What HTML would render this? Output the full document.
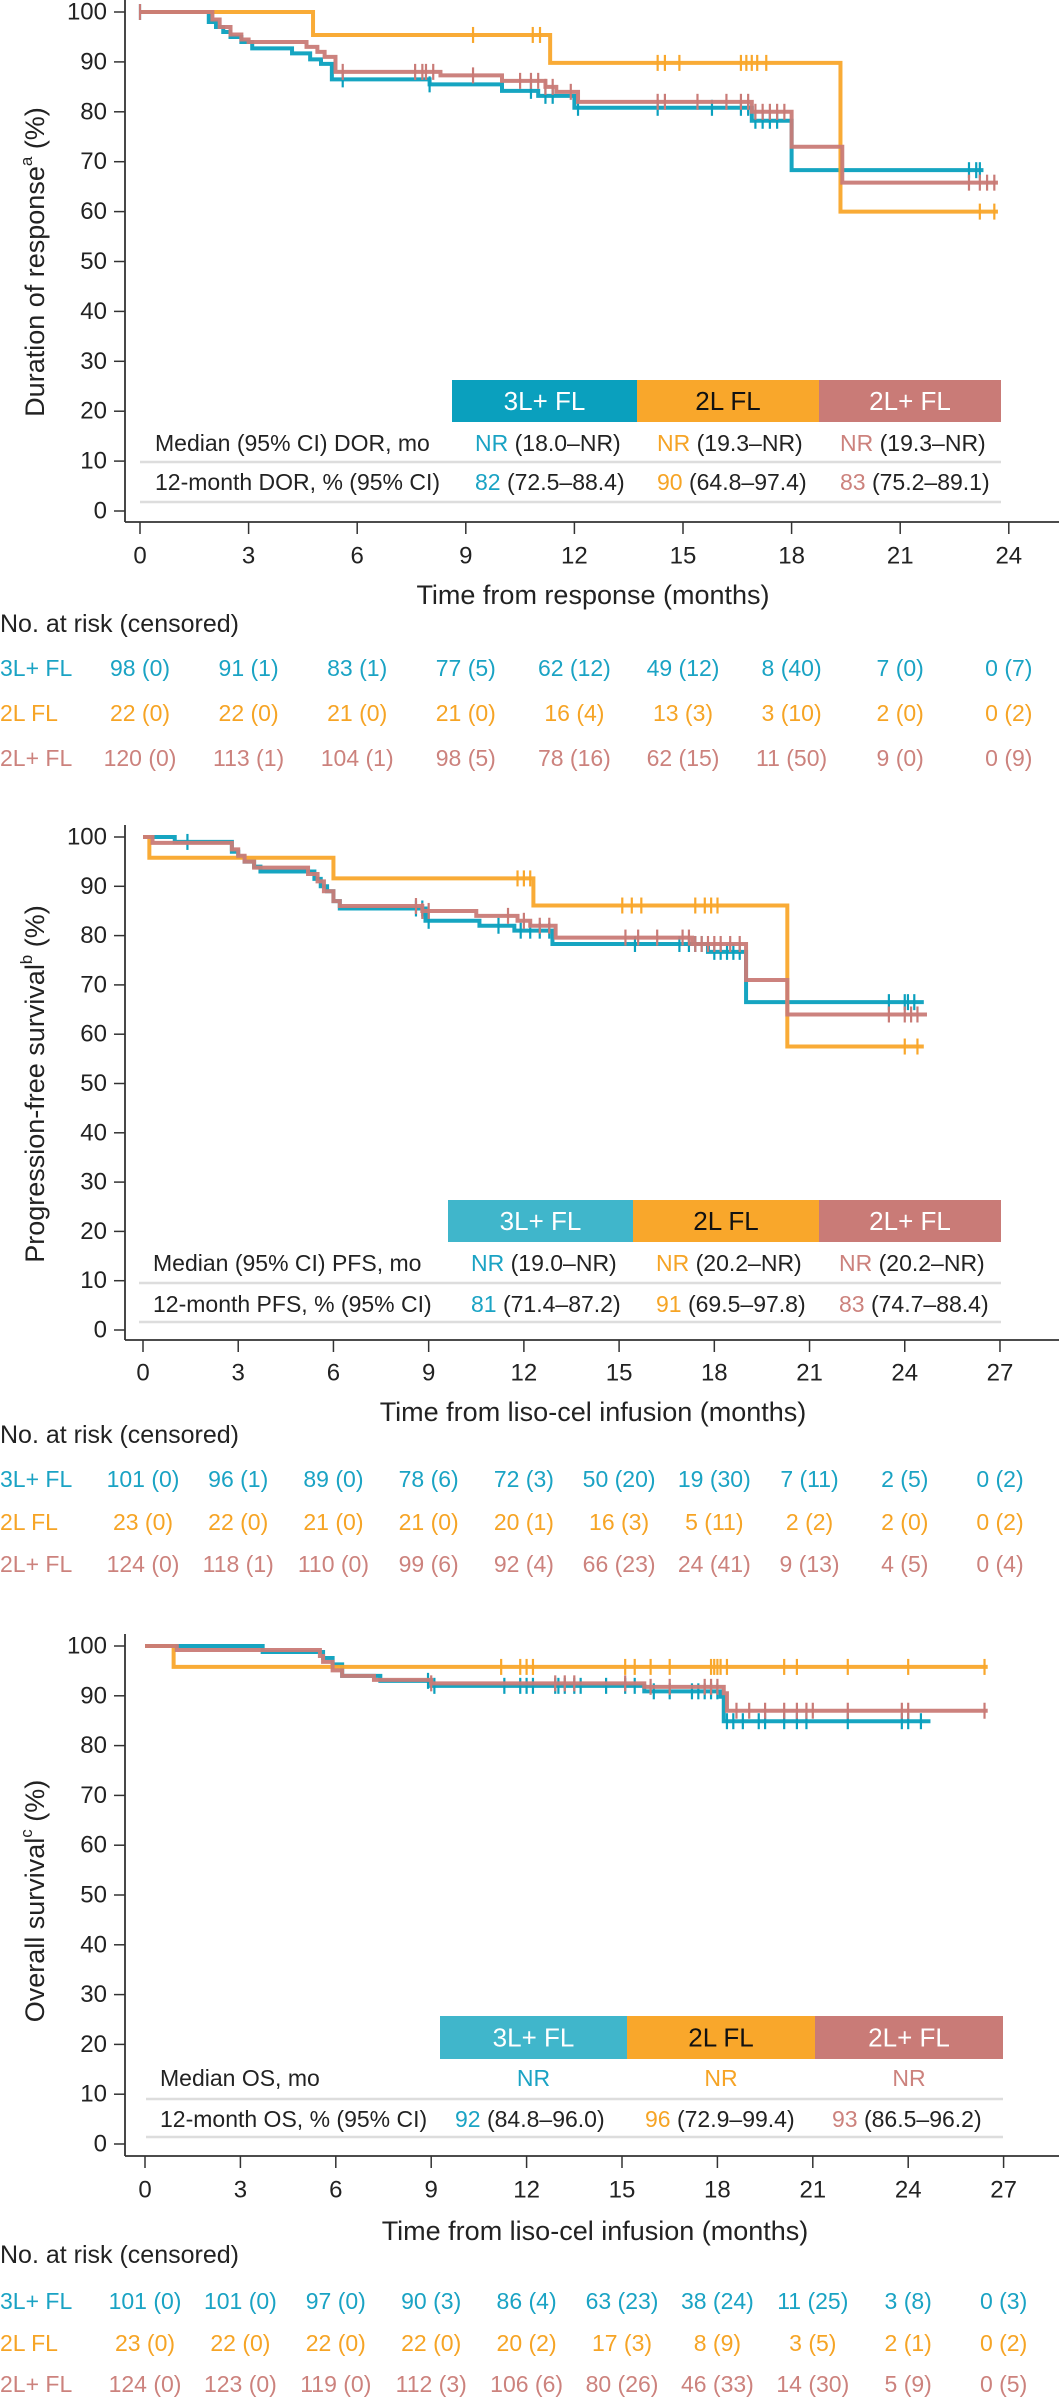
<!DOCTYPE html>
<html><head><meta charset="utf-8"><style>
html,body{margin:0;padding:0;background:#fff;}
svg{display:block;font-family:"Liberation Sans",sans-serif;}
</style></head><body>
<svg id="fig" width="1059" height="2400" viewBox="0 0 1059 2400" xmlns="http://www.w3.org/2000/svg"></svg>
<script>
// ===== DATA =====
const xTicksA = [0,3,6,9,12,15,18,21,24];
const xTicksB = [0,3,6,9,12,15,18,21,24,27];
const yTicks = [0,10,20,30,40,50,60,70,80,90,100];
const groups = ["3L+ FL","2L FL","2L+ FL"];

// DOR
const dorTealT = [0,1.9,2.1,2.3,2.5,2.8,3.1,4.2,4.7,5.0,5.3,8.0,10.0,11.0,12.0,16.9,18.0];
const dorTealS = [100,98,97,96,95,94,92.7,91.7,90.5,89.6,86.5,85.5,84.2,83.2,80.8,78.2,68.3];
const dorTealEnd = 23.3;
const dorTealC = [0,5.6,8.0,10.8,11.2,11.4,12.1,14.3,15.8,16.6,16.8,17.0,17.2,17.4,17.6,22.9,23.1,23.2];
const dorOrT = [0,4.78,11.33,19.35];
const dorOrS = [100,95.4,89.8,60];
const dorOrEnd = 23.7;
const dorOrC = [9.2,10.85,11.05,14.3,14.5,14.9,16.6,16.75,16.9,17.05,17.3,23.2,23.6];
const dorRoseT = [0,2.0,2.2,2.5,2.8,3.0,4.6,4.9,5.1,5.4,8.3,10.0,11.2,11.5,12.1,16.9,18.0,19.4];
const dorRoseS = [100,98.5,97,95.5,94.5,94,93,92,91,88,87.3,86.2,85,84,82,80,73,65.8];
const dorRoseEnd = 23.7;
const dorRoseC = [0,5.6,7.6,7.8,7.9,8.1,9.2,10.5,10.8,11.0,11.2,11.4,11.9,14.3,14.5,15.4,16.2,16.6,16.8,17.0,17.2,17.4,17.6,17.8,22.9,23.2,23.4,23.6];

// PFS
const pfsTealT = [0,1.0,2.8,3.0,3.2,3.5,3.7,5.4,5.6,5.8,6.0,6.2,8.9,10.6,11.7,12.9,17.8,19.0];
const pfsTealS = [100,99,97,96,95,94,93,91.5,90,89,87,85.5,83,82,81,78.3,76.7,66.5];
const pfsTealEnd = 24.6;
const pfsTealC = [1.4,8.6,8.8,9.0,11.2,11.9,12.2,12.5,12.8,15.5,16.9,17.2,17.4,17.6,18.0,18.2,18.4,18.6,18.8,23.5,24.0,24.1,24.3];
const pfsOrT = [0,0.2,6.0,12.3,20.3];
const pfsOrS = [100,95.8,91.6,86.1,57.5];
const pfsOrEnd = 24.6;
const pfsOrC = [11.8,12.0,12.2,15.1,15.4,15.7,17.4,17.7,17.9,18.1,24.0,24.4];
const pfsRoseT = [0,0.3,2.8,3.0,3.2,3.5,5.2,5.5,5.7,6.0,6.2,8.8,10.5,11.8,12.2,13.0,17.3,19.0,20.3];
const pfsRoseS = [100,98.8,97.5,96.2,95,93.8,92.5,91,89,87,86,85,84,83,82,79.6,78.3,71,64];
const pfsRoseEnd = 24.7;
const pfsRoseC = [8.6,8.8,9.0,11.5,12.0,12.5,12.8,15.2,15.6,16.2,17.0,17.2,17.4,17.6,17.8,18.0,18.2,18.5,18.8,23.5,24.0,24.2,24.4];

// OS
const osTealT = [0,3.7,5.6,5.9,6.2,7.4,9.0,15.7,18.1,18.2];
const osTealS = [100,98.8,97.6,96.3,94,93,92,90.9,89.8,84.9];
const osTealEnd = 24.7;
const osTealC = [8.9,9.1,11.3,11.8,12.0,12.2,12.9,13.0,13.2,13.5,13.7,14.5,15.1,15.4,16.0,16.5,17.2,17.4,17.6,17.8,18.0,18.3,18.5,18.8,19.3,19.5,20.1,20.5,20.8,22.1,23.8,24.0,24.4];
const osOrT = [0,0.9];
const osOrS = [100,95.8];
const osOrEnd = 26.5;
const osOrC = [11.2,11.8,12.0,12.2,15.1,15.4,15.9,16.5,17.8,17.9,18.0,18.1,18.3,20.1,20.5,22.1,24.0,26.4];
const osRoseT = [0,1.0,5.5,5.6,5.9,6.2,7.2,9.0,15.7,18.2,18.3];
const osRoseS = [100,99.2,98,96.8,95.1,94,93.2,92.5,91.8,90.5,87];
const osRoseEnd = 26.5;
const osRoseC = [9.0,12.9,13.2,13.5,15.1,15.9,16.5,17.6,17.8,18.0,18.6,19.0,19.5,20.1,20.5,20.8,21.0,22.1,23.8,24.0,26.4];

// risk tables
const dorRiskTeal = ["98 (0)","91 (1)","83 (1)","77 (5)","62 (12)","49 (12)","8 (40)","7 (0)","0 (7)"];
const dorRiskOr = ["22 (0)","22 (0)","21 (0)","21 (0)","16 (4)","13 (3)","3 (10)","2 (0)","0 (2)"];
const dorRiskRose = ["120 (0)","113 (1)","104 (1)","98 (5)","78 (16)","62 (15)","11 (50)","9 (0)","0 (9)"];
const pfsRiskTeal = ["101 (0)","96 (1)","89 (0)","78 (6)","72 (3)","50 (20)","19 (30)","7 (11)","2 (5)","0 (2)"];
const pfsRiskOr = ["23 (0)","22 (0)","21 (0)","21 (0)","20 (1)","16 (3)","5 (11)","2 (2)","2 (0)","0 (2)"];
const pfsRiskRose = ["124 (0)","118 (1)","110 (0)","99 (6)","92 (4)","66 (23)","24 (41)","9 (13)","4 (5)","0 (4)"];
const osRiskTeal = ["101 (0)","101 (0)","97 (0)","90 (3)","86 (4)","63 (23)","38 (24)","11 (25)","3 (8)","0 (3)"];
const osRiskOr = ["23 (0)","22 (0)","22 (0)","22 (0)","20 (2)","17 (3)","8 (9)","3 (5)","2 (1)","0 (2)"];
const osRiskRose = ["124 (0)","123 (0)","119 (0)","112 (3)","106 (6)","80 (26)","46 (33)","14 (30)","5 (9)","0 (5)"];

// summary table
const dorMedNum = ["NR","NR","NR"], dorMedCI = [" (18.0–NR)"," (19.3–NR)"," (19.3–NR)"];
const dor12Num = ["82","90","83"], dor12CI = [" (72.5–88.4)"," (64.8–97.4)"," (75.2–89.1)"];
const pfsMedNum = ["NR","NR","NR"], pfsMedCI = [" (19.0–NR)"," (20.2–NR)"," (20.2–NR)"];
const pfs12Num = ["81","91","83"], pfs12CI = [" (71.4–87.2)"," (69.5–97.8)"," (74.7–88.4)"];
const osMedNum = ["NR","NR","NR"], osMedCI = ["","",""];
const os12Num = ["92","96","93"], os12CI = [" (84.8–96.0)"," (72.9–99.4)"," (86.5–96.2)"];

// ===== RENDER =====
const NS = "http://www.w3.org/2000/svg";
const svg = document.getElementById("fig");
const LINE = ["#0aa0be","#f9a72b","#c97b77"];
const TXT = ["#1aa3c4","#f6a425","#cc827d"];
function mk(tag, attrs, parent){
  const e = document.createElementNS(NS, tag);
  for (const k in attrs) e.setAttribute(k, attrs[k]);
  (parent||svg).appendChild(e);
  return e;
}
function txt(s, x, y, size, fill, anchor, parent){
  const t = mk("text", {x:x, y:y, "font-size":size, fill:fill, "text-anchor":anchor||"start", "dominant-baseline":"central"}, parent);
  t.textContent = s;
  return t;
}

function panel(P){
  const g = mk("g", {});
  
  
  const xs = t => P.x0 + t * P.pxm;
  const ys = v => P.y0 - v * (P.y0 - P.y100) / 100;

  const ax = mk("g", {}, g);
  
  
  mk("line", {x1:P.axL, y1:P.y100-12, x2:P.axL, y2:P.axY, stroke:"#333", "stroke-width":1.8}, ax);
  mk("line", {x1:P.axL, y1:P.axY, x2:1059, y2:P.axY, stroke:"#333", "stroke-width":1.8}, ax);
  yTicks.forEach(v=>{
    mk("line", {x1:P.axL-11, y1:ys(v), x2:P.axL, y2:ys(v), stroke:"#333", "stroke-width":1.5}, ax);
    const l = txt(String(v), P.axL-18, ys(v), 24, "#222", "end", ax);
    
    
  });
  P.ticks.forEach(t=>{
    mk("line", {x1:xs(t), y1:P.axY, x2:xs(t), y2:P.axY+12, stroke:"#333", "stroke-width":1.5}, ax);
    const l = txt(String(t), xs(t), P.xlabY, 24, "#222", "middle", ax);
    
    
  });
  const yt = mk("text", {x:0, y:0, "font-size":27, fill:"#222", "text-anchor":"middle", "dominant-baseline":"central", transform:"translate("+P.ytX+","+P.ytY+") rotate(-90)"}, g);
  
  
  yt.appendChild(document.createTextNode(P.ytitle));
  const sup = mk("tspan", {"font-size":17, dy:-9}, yt); sup.textContent = P.sup;
  const rest = mk("tspan", {dy:9}, yt); rest.textContent = " (%)";
  const xt = txt(P.xtitle, P.xtX, P.xtY, 27, "#222", "middle", g);
  
  

  P.series.forEach((S, i)=>{
    const sg = mk("g", {}, g);
    
    
    let d = "M" + xs(S.t[0]) + "," + ys(S.s[0]);
    for (let k=1;k<S.t.length;k++){
      d += " H" + xs(S.t[k]) + " V" + ys(S.s[k]);
    }
    d += " H" + xs(S.end);
    const p = mk("path", {d:d, fill:"none", stroke:LINE[i], "stroke-width":4, "stroke-linejoin":"miter", opacity:0.95}, sg);
    
    
    S.c.forEach(ct=>{
      let v = S.s[0];
      for (let k=0;k<S.t.length;k++){ if (S.t[k] <= ct) v = S.s[k]; }
      const m = mk("line", {x1:xs(ct), y1:ys(v)-8, x2:xs(ct), y2:ys(v)+8, stroke:LINE[i], "stroke-width":2.2}, sg);
      
      
    });
  });

  const tb = mk("g", {}, g);
  
  
  for (let i=0;i<3;i++){
    const r = mk("rect", {x:P.hx[i], y:P.hy[0], width:P.hx[i+1]-P.hx[i], height:P.hy[1]-P.hy[0], fill:P.hcol[i]}, tb);
    
    
    const ht = txt(groups[i], (P.hx[i]+P.hx[i+1])/2, (P.hy[0]+P.hy[1])/2, 26, i==1?"#111":"#fff", "middle", tb);
    
    
  }
  [P.line1, P.line2].forEach(ly=>{
    mk("line", {x1:P.gx0, y1:ly, x2:P.hx[3], y2:ly, stroke:"#ddd", "stroke-width":2.5}, tb);
  });
  const rl1 = txt(P.row1, P.rlx, P.medY, 23, "#222", "start", tb);
  
  
  const rl2 = txt(P.row2, P.rlx, P.r2Y, 23, "#222", "start", tb);
  
  
  for (let i=0;i<3;i++){
    const anchor = P.medCenter ? "middle" : "start";
    const mx = P.medCenter ? (P.hx[i]+P.hx[i+1])/2 : P.cx[i];
    const t1 = mk("text", {x:mx, y:P.medY, "font-size":23, "text-anchor":anchor, "dominant-baseline":"central"}, tb);
    
    
    const a = mk("tspan", {fill:TXT[i]}, t1); a.textContent = P.medN[i];
    if (P.medC[i]) { const b = mk("tspan", {fill:"#222"}, t1); b.textContent = P.medC[i]; }
    const t2 = mk("text", {x:P.cx[i], y:P.r2Y, "font-size":23, "dominant-baseline":"central"}, tb);
    
    
    const c = mk("tspan", {fill:TXT[i]}, t2); c.textContent = P.m12N[i];
    const d2 = mk("tspan", {fill:"#222"}, t2); d2.textContent = P.m12C[i];
  }

  const rk = mk("g", {}, g);
  
  
  const hd = txt("No. at risk (censored)", 0, P.riskHdrY, 25, "#222", "start", rk);
  
  
  P.risk.forEach((row, i)=>{
    const lab = txt(groups[i], 0, P.rows[i], 23, TXT[i], "start", rk);
    
    
    row.forEach((v, k)=>{
      const c = txt(v, xs(P.ticks[k]), P.rows[i], 23, TXT[i], "middle", rk);
      
      
    });
  });
}

const H1 = ["#0aa0be","#f9a72b","#c97b77"];
const H2 = ["#40b6cb","#f9a72b","#c97b77"];

panel({name:"duration-of-response", x0:140, pxm:36.2, ticks:xTicksA, y100:12, y0:511, axL:125, axY:522, xlabY:556,
  ytitle:"Duration of response", sup:"a", ytX:35, ytY:262, xtitle:"Time from response (months)", xtX:593, xtY:595,
  series:[{t:dorTealT,s:dorTealS,end:dorTealEnd,c:dorTealC},{t:dorOrT,s:dorOrS,end:dorOrEnd,c:dorOrC},{t:dorRoseT,s:dorRoseS,end:dorRoseEnd,c:dorRoseC}],
  hx:[452,637,819,1001], hy:[380,422], hcol:H1, line1:462, line2:502, medY:443, r2Y:482, gx0:140, rlx:155,
  row1:"Median (95% CI) DOR, mo", row2:"12-month DOR, % (95% CI)", cx:[475,657,840], medCenter:false,
  medN:dorMedNum, medC:dorMedCI, m12N:dor12Num, m12C:dor12CI,
  riskHdrY:624, rows:[668,713,758], risk:[dorRiskTeal,dorRiskOr,dorRiskRose]});

panel({name:"progression-free-survival", x0:143, pxm:31.74, ticks:xTicksB, y100:837, y0:1330, axL:125, axY:1340, xlabY:1373,
  ytitle:"Progression-free survival", sup:"b", ytX:35, ytY:1084, xtitle:"Time from liso-cel infusion (months)", xtX:593, xtY:1412,
  series:[{t:pfsTealT,s:pfsTealS,end:pfsTealEnd,c:pfsTealC},{t:pfsOrT,s:pfsOrS,end:pfsOrEnd,c:pfsOrC},{t:pfsRoseT,s:pfsRoseS,end:pfsRoseEnd,c:pfsRoseC}],
  hx:[448,633,819,1001], hy:[1200,1242], hcol:H2, line1:1283, line2:1322, medY:1263, r2Y:1304, gx0:139, rlx:153,
  row1:"Median (95% CI) PFS, mo", row2:"12-month PFS, % (95% CI)", cx:[471,656,839], medCenter:false,
  medN:pfsMedNum, medC:pfsMedCI, m12N:pfs12Num, m12C:pfs12CI,
  riskHdrY:1435, rows:[1479,1522,1564], risk:[pfsRiskTeal,pfsRiskOr,pfsRiskRose]});

panel({name:"overall-survival", x0:145, pxm:31.8, ticks:xTicksB, y100:1646, y0:2144, axL:125, axY:2156, xlabY:2190,
  ytitle:"Overall survival", sup:"c", ytX:35, ytY:1901, xtitle:"Time from liso-cel infusion (months)", xtX:595, xtY:2231,
  series:[{t:osTealT,s:osTealS,end:osTealEnd,c:osTealC},{t:osOrT,s:osOrS,end:osOrEnd,c:osOrC},{t:osRoseT,s:osRoseS,end:osRoseEnd,c:osRoseC}],
  hx:[440,627,815,1003], hy:[2016,2059], hcol:H2, line1:2099, line2:2137, medY:2078, r2Y:2119, gx0:146, rlx:160,
  row1:"Median OS, mo", row2:"12-month OS, % (95% CI)", cx:[455,645,832], medCenter:true,
  medN:osMedNum, medC:osMedCI, m12N:os12Num, m12C:os12CI,
  riskHdrY:2255, rows:[2301,2343,2384], risk:[osRiskTeal,osRiskOr,osRiskRose]});
</script>
</body></html>
